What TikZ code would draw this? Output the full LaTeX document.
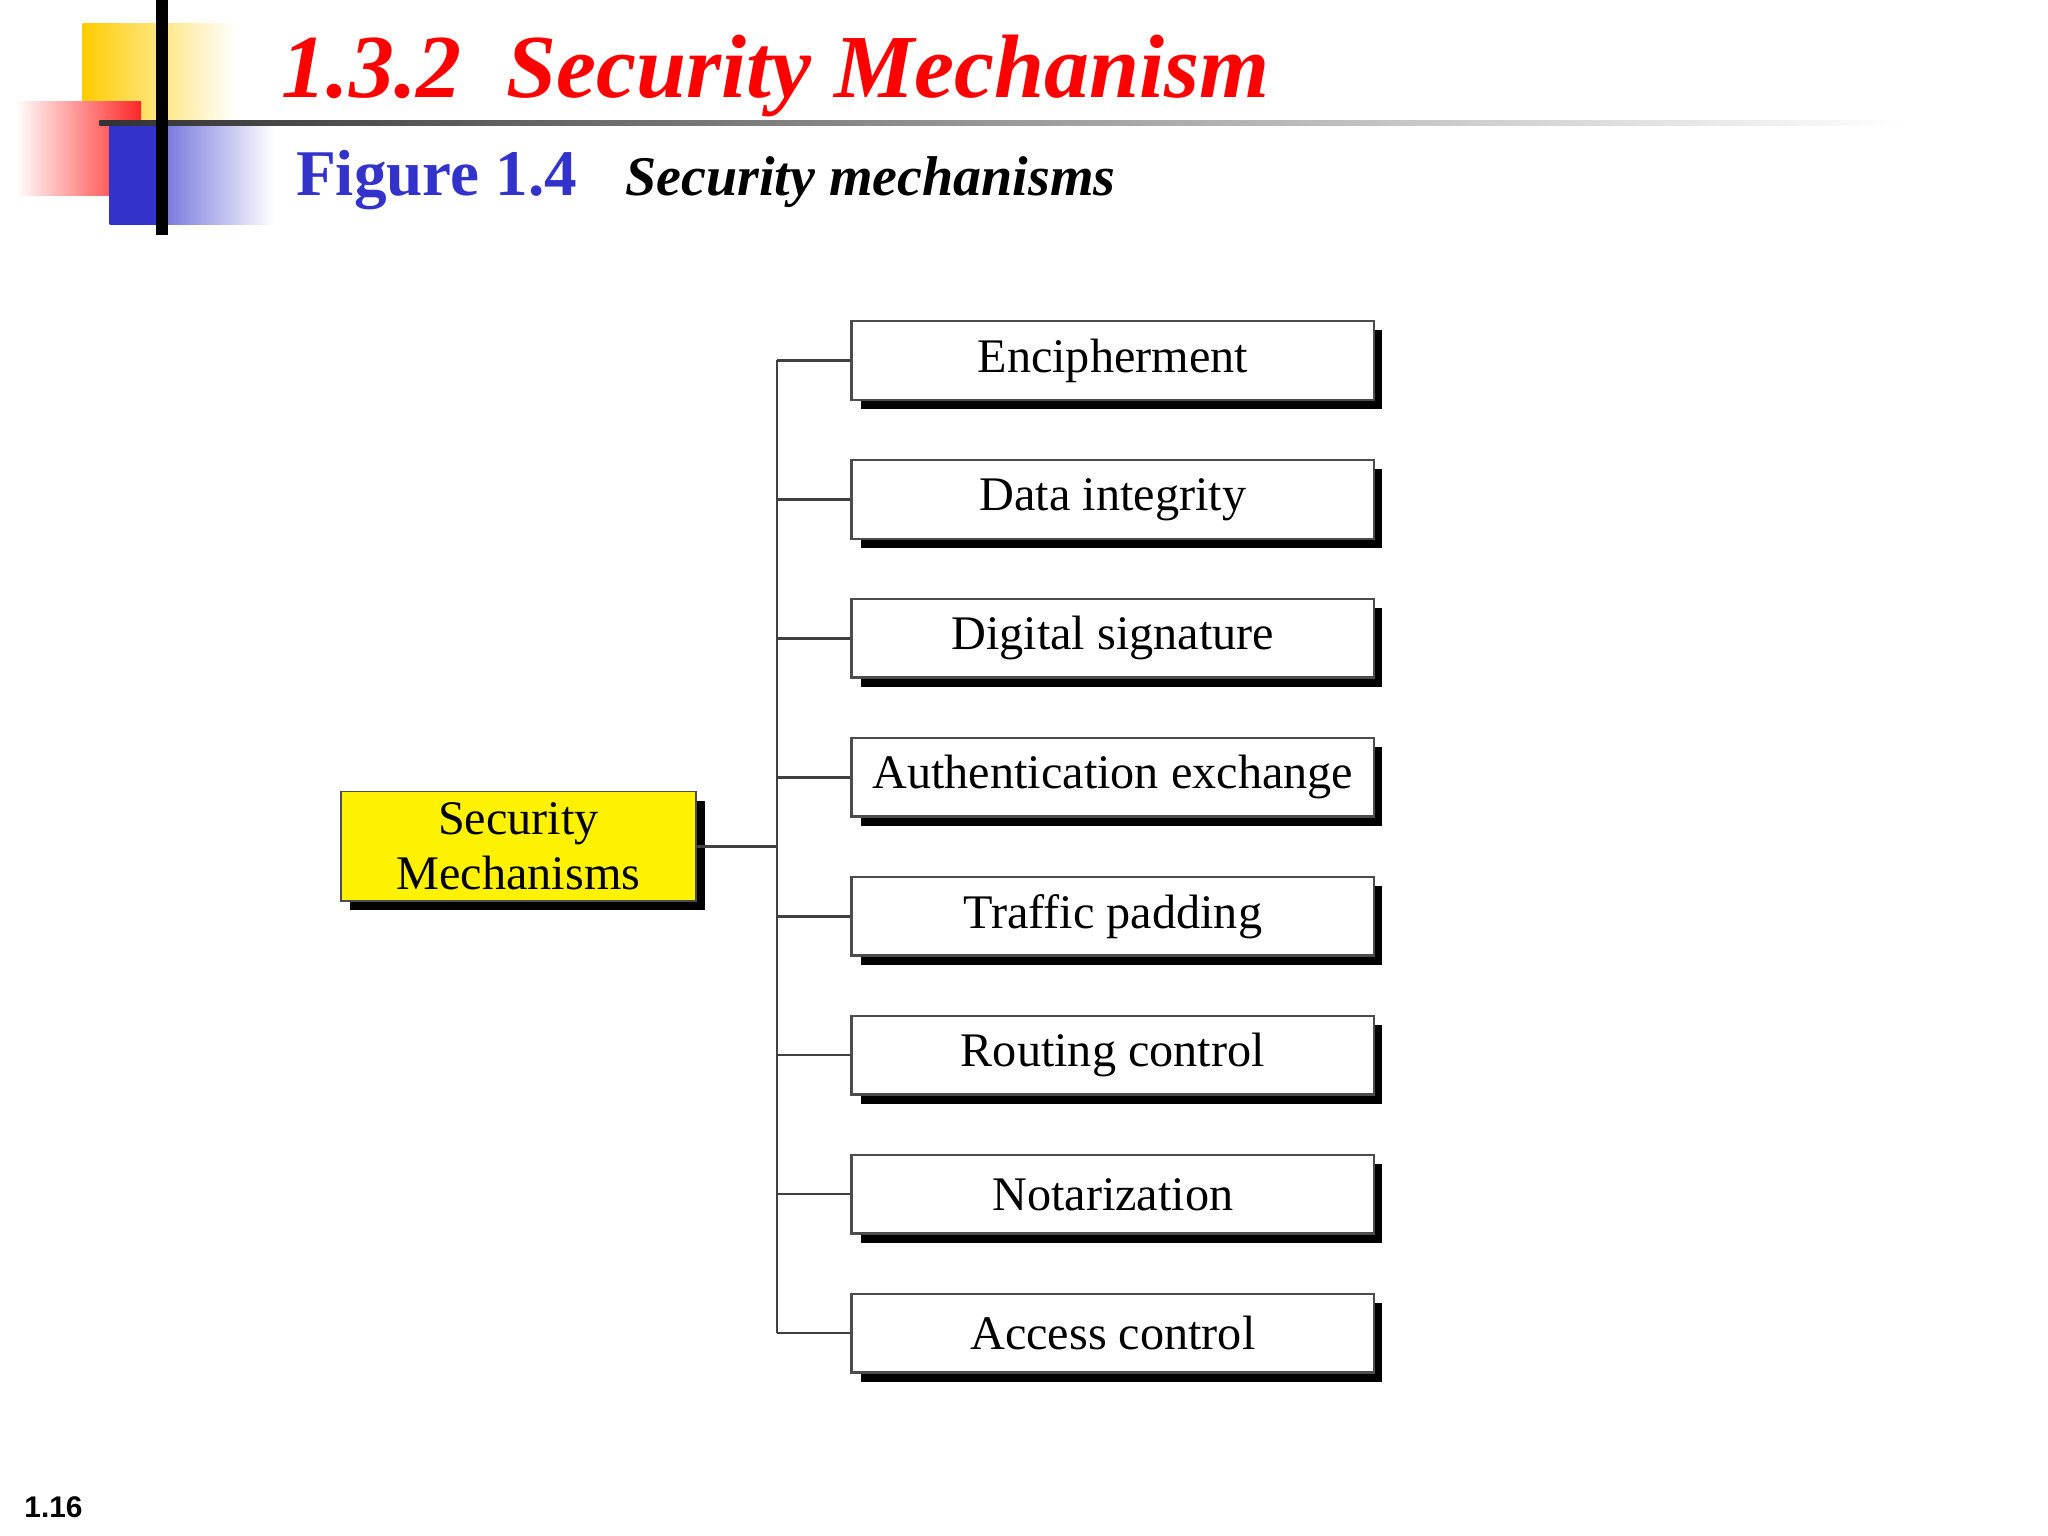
\documentclass[tikz,border=0pt]{standalone}
\usepackage{fontspec}
\setmainfont{Liberation Serif}
\newfontfamily\sansf{Liberation Sans}
\definecolor{figblue}{RGB}{51,51,204}
\definecolor{sqyel}{RGB}{255,204,0}
\begin{document}
\begin{tikzpicture}[x=0.01cm,y=-0.01cm,
  mech/.style={draw=black!70,line width=0.5pt,fill=white,minimum width=4cm,minimum height=0.6cm,inner sep=0pt,font=\fontsize{10.5}{12}\selectfont},
  shad/.style={fill=black},
  link/.style={draw=black!75,line width=0.5pt}]
\useasboundingbox (0,0) rectangle (1568,1176);
% decoration
\shade[left color=sqyel,right color=white] (63,18) rectangle (180,95);
\shade[right color=red!85,left color=white] (12,78) rectangle (108,150);
\shade[left color=figblue,right color=white] (84,95) rectangle (210,172);
\fill[figblue] (84,95) rectangle (120,172);
\shade[left color=black!80,right color=white] (76,92) rectangle (1460,96);
\draw[line width=2.5pt] (124,0) -- (124,180);
% titles
\node[anchor=base west,text=red,inner sep=0pt,font=\fontsize{19.6}{24}\selectfont\bfseries\itshape] (title) at (215,75) {1.3.2\ \ Security Mechanism};
\node[anchor=base west,text=figblue,inner sep=0pt,font=\fontsize{14.2}{16}\selectfont\bfseries] (fig) at (226,150) {Figure 1.4};
\node[anchor=base west,inner sep=0pt,font=\fontsize{12.2}{14}\selectfont\bfseries\itshape] (cap) at (478,150) {Security mechanisms};
\node[anchor=base west,inner sep=0pt,font=\sansf\fontsize{6.5}{8}\selectfont\bfseries] (pg) at (18,1162) {1.16};
% root
\fill[shad] (268,613) rectangle (540,697);
\node[draw=black!70,fill=yellow,minimum width=2.72cm,minimum height=0.84cm,inner sep=0pt,align=center,font=\fontsize{10.5}{12}\selectfont] (root) at (397,648) {Security\\Mechanisms};
% children
\foreach \t [count=\i] in {Encipherment,Data integrity,Digital signature,Authentication exchange,Traffic padding,Routing control,Notarization,Access control}{
  \pgfmathsetmacro{\yy}{276+106.4*(\i-1)}
  \fill[shad] (659,\yy-23) rectangle (1058,\yy+37);
  \node[mech] (c\i) at (852,\yy) {\t};
  \draw[link] (c\i.west) -- ++(-56,0) coordinate (j\i);
}
\draw[link] (j1) -- (j8);
\draw[link] (root.east) -- (root.east -| j1);
\end{tikzpicture}
\end{document}
